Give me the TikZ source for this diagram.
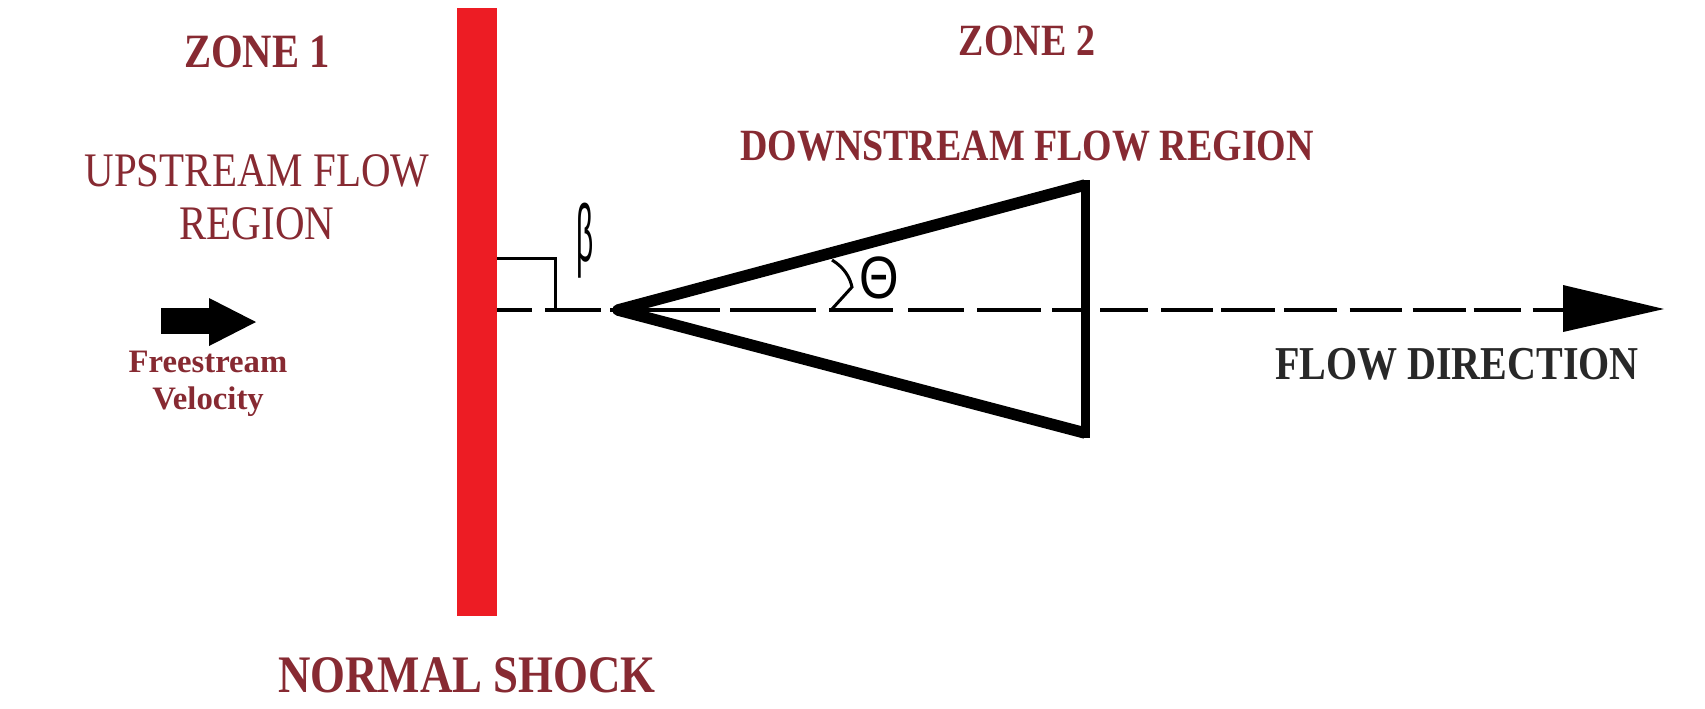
\documentclass[tikz,border=0pt]{standalone}
\usepackage{fontspec}
\usepackage{tikz}
\setmainfont{Liberation Serif}
\newfontfamily\narrowfont[FakeStretch=0.85]{Liberation Serif}
\newfontfamily\symbolfont{Liberation Sans}
\definecolor{labelred}{RGB}{135,42,50}
\definecolor{shockred}{RGB}{237,28,36}
\definecolor{flowgrey}{RGB}{40,40,40}
\tikzset{
% Text styles for the two zones and the flow
zone label/.style={inner sep=0,text=labelred,font=\narrowfont\bfseries\fontsize{12.7}{15}\selectfont},
region label/.style={inner sep=0,text=labelred,align=center,font=\narrowfont\fontsize{13.7}{15}\selectfont},
small label/.style={inner sep=0,text=labelred,align=center,font=\bfseries\fontsize{9.3}{10.5}\selectfont},
angle label/.style={inner sep=0,font=\symbolfont},
thick edge/.style={line width=0.09cm,line join=miter},
thin edge/.style={line width=0.03cm},
axis line/.style={line width=0.035cm}
}
\begin{document}
\begin{tikzpicture}[x=0.01cm,y=-0.01cm]
\useasboundingbox (0,0) rectangle (1705,708);
% The shock
\node(shock)[fill=shockred,inner sep=0,minimum width=0.4cm,minimum height=6.07cm] at (477,312){};
\node(normal)[zone label,font=\narrowfont\bfseries\fontsize{15}{18}\selectfont] at (467,675){NORMAL SHOCK};
% Zone labels
\node(zone1)[zone label,font=\narrowfont\bfseries\fontsize{13.6}{16}\selectfont] at (257,52){ZONE 1};
\node(zone2)[zone label] at (1027,41){ZONE 2};
\node(upstream)[region label] at (257,197){UPSTREAM FLOW\\REGION};
\node(downstream)[zone label] at (1027,146){DOWNSTREAM FLOW REGION};
% Freestream arrow
\coordinate(s0) at (161,321);
\coordinate(s1) at (210,321);
\coordinate(s2) at (256,322);
\draw[line width=0.26cm] (s0) -- (s1);
\fill (209,298) -- (s2) -- (209,346) -- cycle;
\node(free)[small label] at (208,384){Freestream\\Velocity};
% The axis, with the cone on it
\coordinate(axis start) at (497,310);
\coordinate(tip) at (618,310);
\coordinate(top) at (1085,185);
\coordinate(bottom) at (1085,433);
\coordinate(arrow base) at (1563,310);
\coordinate(arrow end) at (1664,309);
\draw[axis line,dash pattern=on 3.5mm off 1.3mm on 5.6mm off 0.9mm on 11mm off 1mm on 8.6mm off 1.3mm on 6.4mm off 1.5mm on 5.6mm off 1.3mm on 6.4mm off 1.1mm on 3.3mm off 1.5mm on 4.8mm off 1.3mm on 5.2mm off 0.8mm on 5.4mm off 0.9mm on 5.3mm off 1.2mm on 5.2mm off 1.1mm on 5.3mm off 0.8mm on 4.7mm off 1.2mm on 3.1mm] (axis start) -- (arrow base);
\fill (1563,285) -- (arrow end) -- (1563,332) -- cycle;
\draw[thick edge,line width=0.115cm,line join=round] (top) -- (tip) -- (bottom);
\draw[thick edge] ([yshift=0.05cm]top) -- ([yshift=-0.05cm]bottom);
% Right angle and the two angles
\coordinate(corner) at (555,258);
\draw[thin edge] (497,258) -- (corner) -- (555,310);
\node(beta)[angle label,font=\symbolfont\fontsize{17}{17}\selectfont] at (585,241){\scalebox{0.5}[1.35]{β}};
\coordinate(arc start) at (832,260);
\coordinate(arc mid) at (852,287);
\coordinate(arc end) at (832,309);
\draw[thin edge] (arc start) .. controls (845,268) and (850,278) .. (arc mid) -- (arc end);
\node(theta)[angle label,font=\symbolfont\fontsize{17}{17}\selectfont] at (879,278){\scalebox{0.85}[1]{Θ}};
% Flow label
\node(flow)[zone label,text=flowgrey,font=\narrowfont\bfseries\fontsize{13.4}{16}\selectfont] at (1457,364){FLOW DIRECTION};
\end{tikzpicture}
\end{document}
